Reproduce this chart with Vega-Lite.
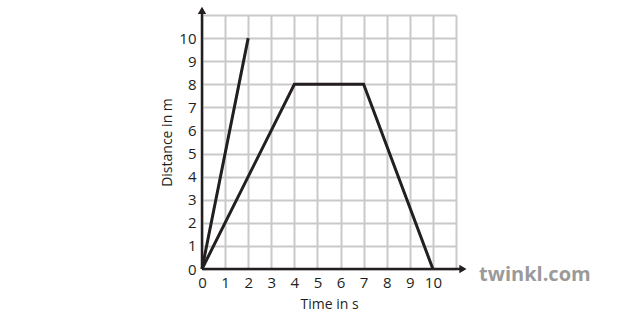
{
  "$schema": "https://vega.github.io/schema/vega-lite/v6.json",
  "width": 254,
  "height": 254,
  "autosize": {"type": "none"},
  "padding": {"left": 202, "top": 15, "right": 174, "bottom": 46},
  "background": "white",
  "config": {
    "view": {"stroke": null},
    "font": "Open Sans",
    "axis": {
      "grid": true,
      "gridColor": "#c9c9c9",
      "gridWidth": 2,
      "ticks": false,
      "domain": false,
      "labelOverlap": false,
      "labelFlush": false,
      "labelBound": false,
      "labelFont": "Open Sans",
      "labelFontSize": 15,
      "labelColor": "#231f20",
      "titleFont": "Open Sans",
      "titleFontSize": 14,
      "titleFontWeight": "normal",
      "titleColor": "#231f20"
    }
  },
  "layer": [
    {
      "data": {"values": [
        {"series": "a", "order": 1, "t": 0, "d": 0},
        {"series": "a", "order": 2, "t": 2, "d": 10},
        {"series": "b", "order": 1, "t": 0, "d": 0},
        {"series": "b", "order": 2, "t": 4, "d": 8},
        {"series": "b", "order": 3, "t": 7, "d": 8},
        {"series": "b", "order": 4, "t": 10, "d": 0}
      ]},
      "mark": {"type": "line", "color": "#231f20", "strokeWidth": 3, "strokeJoin": "miter", "clip": false},
      "encoding": {
        "x": {"field": "t", "type": "quantitative", "scale": {"domain": [0, 11], "nice": false},
          "axis": {"values": [0,1,2,3,4,5,6,7,8,9,10,11], "labelExpr": "datum.value == 11 ? '' : datum.label", "title": "Time in s", "labelPadding": 6, "titlePadding": 7}},
        "y": {"field": "d", "type": "quantitative", "scale": {"domain": [0, 11], "nice": false},
          "axis": {"values": [0,1,2,3,4,5,6,7,8,9,10,11], "labelExpr": "datum.value == 11 ? '' : datum.label", "title": "Distance in m", "labelPadding": 6, "titlePadding": 4}},
        "detail": {"field": "series"},
        "order": {"field": "order"}
      }
    },
    {
      "data": {"values": [
        {"x": 0, "y": 0, "x2": 11.2, "y2": 0},
        {"x": 0, "y": 0, "x2": 0, "y2": 11.1}
      ]},
      "mark": {"type": "rule", "color": "#231f20", "strokeWidth": 2.5, "clip": false},
      "encoding": {
        "x": {"field": "x", "type": "quantitative",
          "axis": {"values": [0,1,2,3,4,5,6,7,8,9,10,11], "labelExpr": "datum.value == 11 ? '' : datum.label", "title": "Time in s", "labelPadding": 6, "titlePadding": 7}},
        "y": {"field": "y", "type": "quantitative",
          "axis": {"values": [0,1,2,3,4,5,6,7,8,9,10,11], "labelExpr": "datum.value == 11 ? '' : datum.label", "title": "Distance in m", "labelPadding": 6, "titlePadding": 4}},
        "x2": {"field": "x2"},
        "y2": {"field": "y2"}
      }
    },
    {
      "data": {"values": [
        {"x": 11.3, "y": 0, "shape": "triangle-right"},
        {"x": 0, "y": 11.2, "shape": "triangle-up"}
      ]},
      "mark": {"type": "point", "filled": true, "color": "#231f20", "size": 70, "opacity": 1, "clip": false},
      "encoding": {
        "x": {"field": "x", "type": "quantitative",
          "axis": {"values": [0,1,2,3,4,5,6,7,8,9,10,11], "labelExpr": "datum.value == 11 ? '' : datum.label", "title": "Time in s", "labelPadding": 6, "titlePadding": 7}},
        "y": {"field": "y", "type": "quantitative",
          "axis": {"values": [0,1,2,3,4,5,6,7,8,9,10,11], "labelExpr": "datum.value == 11 ? '' : datum.label", "title": "Distance in m", "labelPadding": 6, "titlePadding": 4}},
        "shape": {"field": "shape", "type": "nominal", "scale": null, "legend": null}
      }
    },
    {
      "data": {"values": [{"x": 12.0, "y": -0.25, "label": "twinkl.com"}]},
      "mark": {"type": "text", "align": "left", "baseline": "middle", "font": "Open Sans", "fontSize": 20, "fontWeight": "bold", "color": "#9a9a9a", "clip": false},
      "encoding": {
        "x": {"field": "x", "type": "quantitative",
          "axis": {"values": [0,1,2,3,4,5,6,7,8,9,10,11], "labelExpr": "datum.value == 11 ? '' : datum.label", "title": "Time in s", "labelPadding": 6, "titlePadding": 7}},
        "y": {"field": "y", "type": "quantitative",
          "axis": {"values": [0,1,2,3,4,5,6,7,8,9,10,11], "labelExpr": "datum.value == 11 ? '' : datum.label", "title": "Distance in m", "labelPadding": 6, "titlePadding": 4}},
        "text": {"field": "label"}
      }
    }
  ]
}
